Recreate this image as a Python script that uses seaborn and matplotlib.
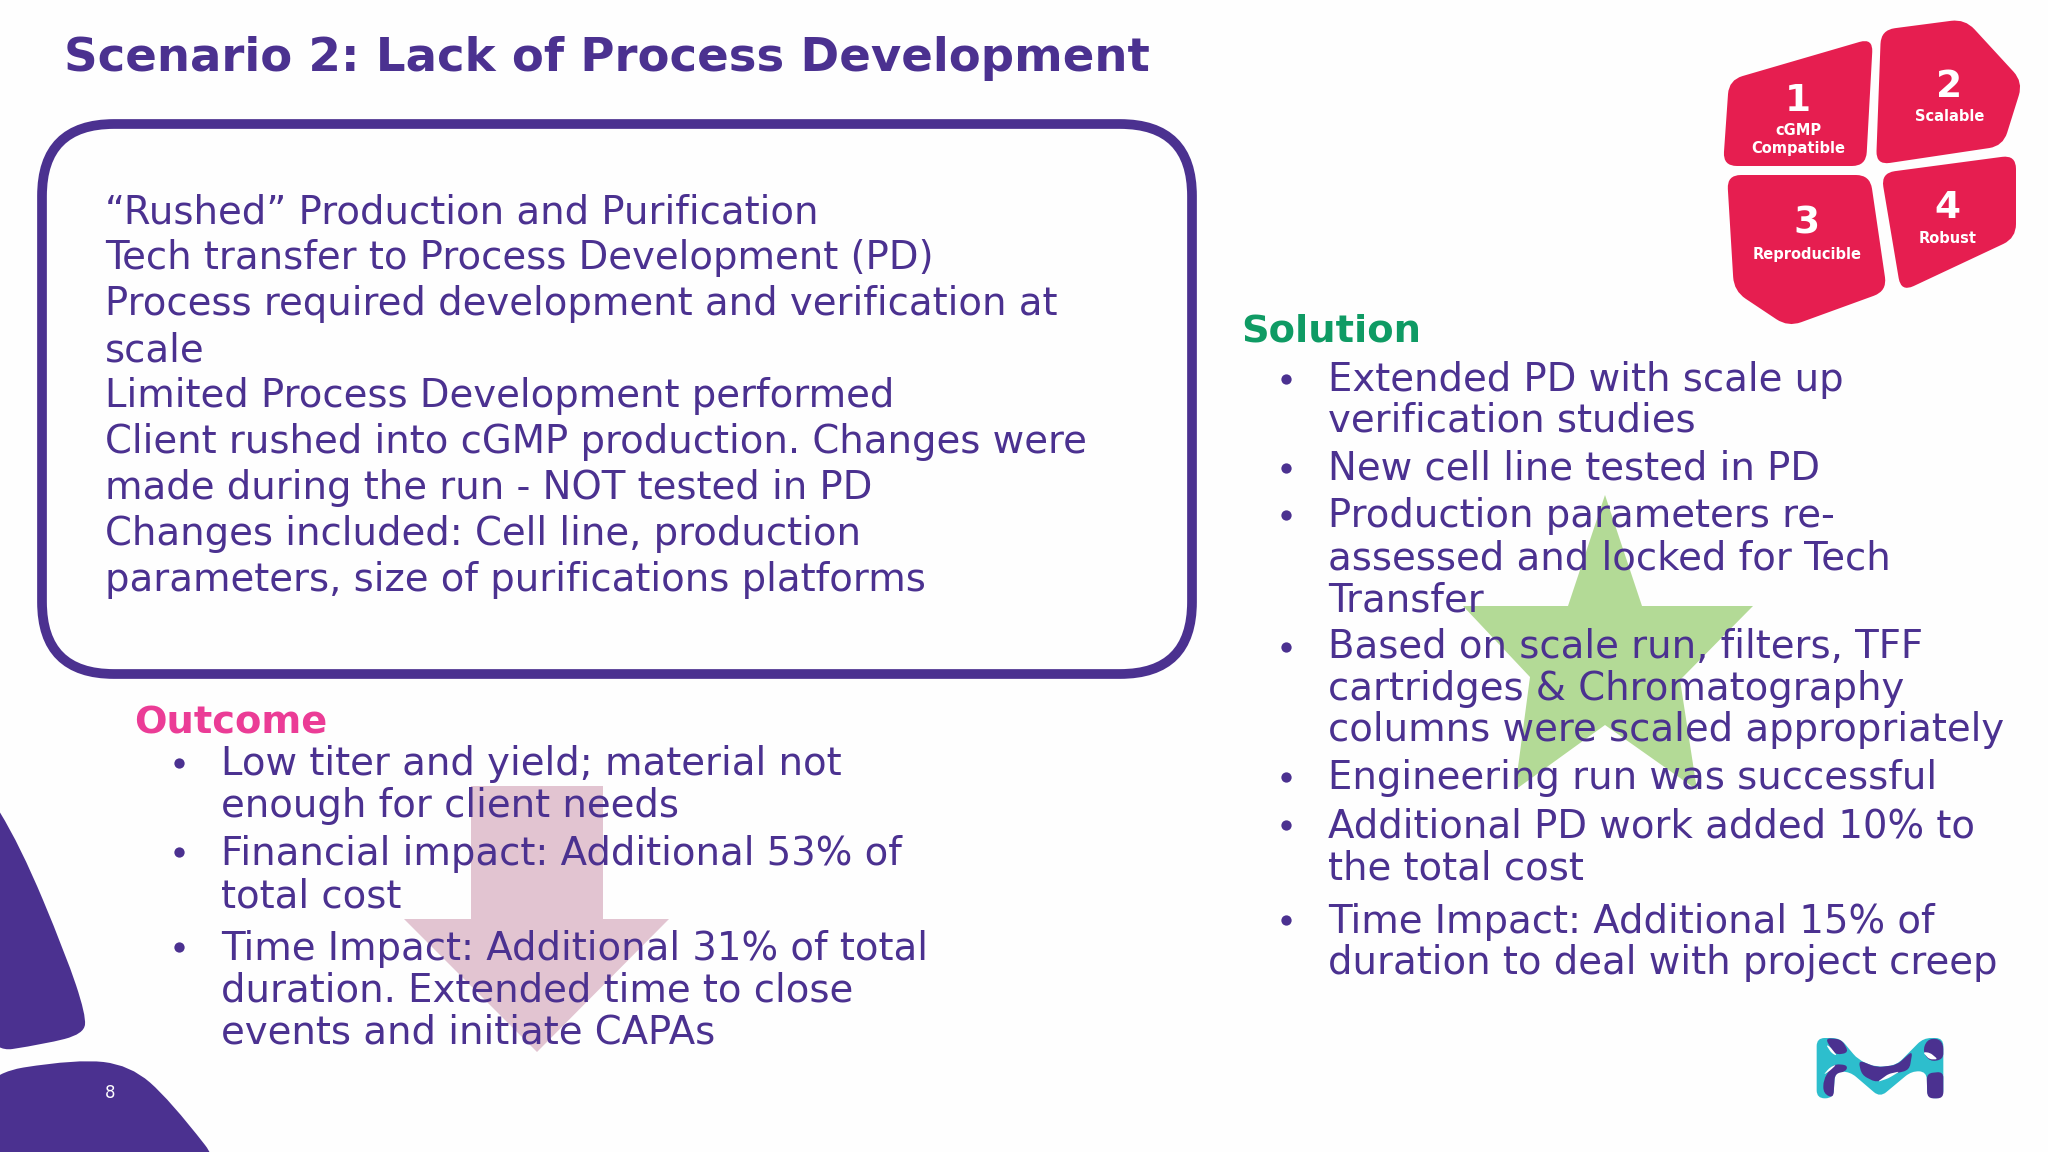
import matplotlib
matplotlib.use('Agg')
import matplotlib.pyplot as plt
import pandas as pd
import seaborn as sns
from matplotlib.patches import FancyBboxPatch, PathPatch, Polygon
from matplotlib.path import Path

sns.set_theme(style='white')
plt.rcParams['font.family'] = ['DejaVu Sans']

PURPLE = '#4b3190'
RED = '#e61e50'
CYAN = '#2dbecd'

title = 'Scenario 2: Lack of Process Development'

# box text
box_lines = ['\u201cRushed\u201d Production and Purification',
             'Tech transfer to Process Development (PD)',
             'Process required development and verification at',
             'scale',
             'Limited Process Development performed',
             'Client rushed into cGMP production. Changes were',
             'made during the run - NOT tested in PD',
             'Changes included: Cell line, production',
             'parameters, size of purifications platforms']
box_y = [223, 269, 315, 361, 407, 453, 499, 545, 591]

# outcome
outcome_lines = ['Low titer and yield; material not',
                 'enough for client needs',
                 'Financial impact: Additional 53% of',
                 'total cost',
                 'Time Impact: Additional 31% of total',
                 'duration. Extended time to close',
                 'events and initiate CAPAs']
outcome_y = [775, 817, 865, 907, 960, 1002, 1043]
outcome_bullet_y = [763, 852, 947]

# solution
solution_lines = ['Extended PD with scale up',
                  'verification studies',
                  'New cell line tested in PD',
                  'Production parameters re-',
                  'assessed and locked for Tech',
                  'Transfer',
                  'Based on scale run, filters, TFF',
                  'cartridges & Chromatography',
                  'columns were scaled appropriately',
                  'Engineering run was successful',
                  'Additional PD work added 10% to',
                  'the total cost',
                  'Time Impact: Additional 15% of',
                  'duration to deal with project creep']
solution_y = [391, 432, 480, 527, 569, 611, 658, 700, 741, 789, 837, 879, 933, 974]
solution_bullet_y = [379, 468, 515, 647, 777, 825, 920]

# icon tiles, pixel outlines
tile_1 = [(1729, 80), (1873, 38), (1866, 166), (1723, 166)]
tile_2 = [(1881, 30), (1965, 19), (2023, 82), (2003, 146), (1876, 165)]
tile_3 = [(1727, 175), (1870, 175), (1887, 291), (1788, 327), (1734, 291)]
tile_4 = [(1881, 173), (2016, 155), (2016, 238), (1901, 292)]
tile_numbers = ['1', '2', '3', '4']
tile_number_xy = [(1798, 111), (1949, 97), (1807, 234), (1947, 218)]
tile_labels = ['cGMP', 'Compatible', 'Scalable', 'Reproducible', 'Robust']
tile_label_xy = [(1798, 135), (1798, 153), (1950, 121), (1807, 259), (1948, 243)]

# logo, zoom coordinates of the crop at (1780, 1010)
logo_cyan = [(110, 84), (180, 84), (235, 150), (290, 172), (350, 165), (430, 84), (490, 84),
             (490, 265), (442, 265), (440, 185), (395, 183), (300, 262), (210, 185),
             (165, 185), (160, 265), (110, 265)]
logo_purple = [[(135, 84), (185, 88), (207, 128), (165, 135)],
               [(130, 210), (160, 162), (203, 165), (198, 185), (165, 190), (160, 265), (130, 250)],
               [(235, 150), (290, 172), (350, 165), (398, 122), (388, 180), (340, 192), (290, 218), (245, 195)],
               [(428, 125), (440, 90), (470, 84), (490, 100), (490, 148), (450, 155)],
               [(440, 190), (490, 185), (490, 265), (442, 265)]]
logo_slits = [[(138, 104), (150, 110), (172, 138), (155, 130)],
              [(130, 195), (150, 172), (170, 163), (150, 182)],
              [(292, 216), (325, 192), (360, 184), (325, 205)],
              [(428, 126), (450, 128), (474, 148), (448, 148)]]

# decoration outlines
arrow_shape = [(471, 786), (603, 786), (603, 919), (669, 919), (537, 1052), (404, 919), (471, 919)]
star_shape = [(1605, 495), (1642, 606), (1753, 606), (1680, 680), (1697, 790),
              (1605, 725), (1515, 790), (1530, 677), (1463, 606), (1568, 606)]
blob_top = [(-20, 780), (20, 845), (66, 955), (86, 1015), (84, 1034), (45, 1044), (-20, 1054), (-40, 900)]
blob_bottom = [(-30, 1076), (77, 1059), (130, 1065), (170, 1100), (240, 1190), (-30, 1190)]


def rounded_path(points, r):
    # polygon with quadratic corners
    verts, codes = [], []
    n = len(points)
    for i in range(n):
        px, py = points[i - 1]
        cx, cy = points[i]
        nx, ny = points[(i + 1) % n]
        d1 = max(((cx - px) ** 2 + (cy - py) ** 2) ** 0.5, 1e-6)
        d2 = max(((nx - cx) ** 2 + (ny - cy) ** 2) ** 0.5, 1e-6)
        r1, r2 = min(r, d1 / 2), min(r, d2 / 2)
        a = (cx + (px - cx) * r1 / d1, cy + (py - cy) * r1 / d1)
        b = (cx + (nx - cx) * r2 / d2, cy + (ny - cy) * r2 / d2)
        verts += [a, (cx, cy), b]
        codes += [Path.LINETO if i else Path.MOVETO, Path.CURVE3, Path.CURVE3]
    verts.append(verts[0])
    codes.append(Path.CLOSEPOLY)
    return Path(verts, codes)


fig = plt.figure(figsize=(20.48, 11.52), dpi=100, facecolor='#fefefe')
ax = fig.add_axes([0, 0, 1, 1])
ax.set_xlim(0, 2048)
ax.set_ylim(1152, 0)
ax.axis('off')

# corner blobs
ax.add_patch(PathPatch(rounded_path(blob_top, 1000), fc=PURPLE, ec='none'))
ax.add_patch(PathPatch(rounded_path(blob_bottom, 1000), fc=PURPLE, ec='none'))
ax.text(110, 1093, '8', color='white', fontsize=12, ha='center', va='center')

# star and arrow sit under the text
ax.add_patch(Polygon(star_shape, closed=True, fc='#b3da96', ec='none'))
ax.add_patch(Polygon(arrow_shape, closed=True, fc='#e2c4d1', ec='none'))

ax.add_patch(FancyBboxPatch((42 + 72, 124 + 72), 1150 - 144, 550 - 144, boxstyle='round,pad=72,rounding_size=72',
                            fc='none', ec=PURPLE, lw=7))

ax.text(64, 71, title, color=PURPLE, fontsize=33.6, fontweight='bold')

BODY = 27.8
for line, y in zip(box_lines, box_y):
    ax.text(105, y, line, color=PURPLE, fontsize=BODY)

ax.text(134, 734, 'Outcome', color='#eb3c96', fontsize=27.6, fontweight='bold')
for line, y in zip(outcome_lines, outcome_y):
    ax.text(221, y, line, color=PURPLE, fontsize=BODY)

ax.text(1241, 341, 'Solution', color='#0f9b64', fontsize=27.6, fontweight='bold')
for line, y in zip(solution_lines, solution_y):
    ax.text(1328, y, line, color=PURPLE, fontsize=BODY)

bullets = pd.DataFrame({
    'x': [179] * len(outcome_bullet_y) + [1286] * len(solution_bullet_y),
    'y': outcome_bullet_y + solution_bullet_y,
})
sns.scatterplot(data=bullets, x='x', y='y', s=55, color=PURPLE, linewidth=0, ax=ax, legend=False)
ax.set_xlim(0, 2048)
ax.set_ylim(1152, 0)
ax.axis('off')

# icon
for tile in [tile_1, tile_2, tile_3, tile_4]:
    ax.add_patch(PathPatch(rounded_path(tile, 14), fc=RED, ec='none'))
for label, (x, y) in zip(tile_numbers, tile_number_xy):
    ax.text(x, y, label, color='white', fontsize=27, fontweight='bold', ha='center')
for label, (x, y) in zip(tile_labels, tile_label_xy):
    ax.text(x, y, label, color='white', fontsize=10.5, fontweight='bold', ha='center')


# logo
def logo_px(points):
    return [(1780 + x / 3, 1010 + y / 3) for x, y in points]


ax.add_patch(PathPatch(rounded_path(logo_px(logo_cyan), 8), fc=CYAN, ec='none'))
for shape in logo_purple:
    ax.add_patch(PathPatch(rounded_path(logo_px(shape), 6), fc=PURPLE, ec='none'))
for shape in logo_slits:
    ax.add_patch(PathPatch(rounded_path(logo_px(shape), 3), fc='white', ec='none'))

fig.savefig('out.png', dpi=100, facecolor=fig.get_facecolor())
